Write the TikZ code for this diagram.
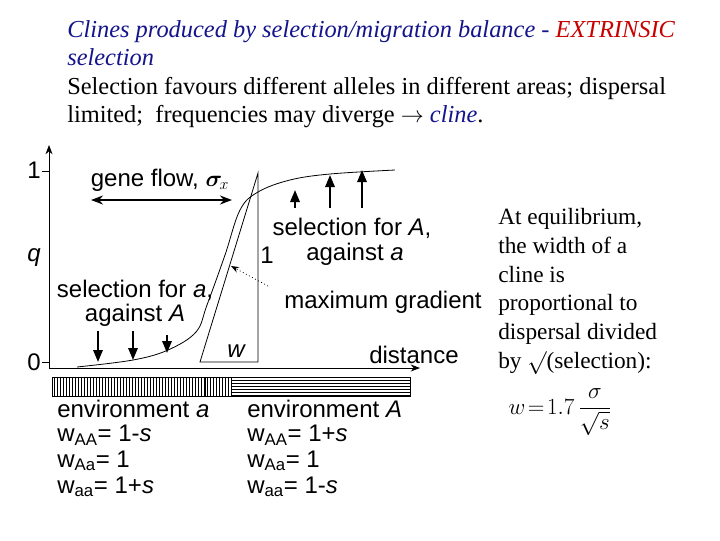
\documentclass[tikz,border=0pt]{standalone}
\usepackage{amsmath}
\usepackage{fontspec}
\setmainfont{Liberation Serif}
\setsansfont{Liberation Sans}
\usetikzlibrary{arrows.meta,patterns}
\begin{document}
\begin{tikzpicture}[x=0.75pt,y=-0.75pt,
  lab/.style={font=\sffamily\fontsize{18}{20}\selectfont,inner sep=0pt},
  side/.style={font=\fontsize{17.5}{21.6}\selectfont,inner sep=0pt,anchor=north west,align=left},
  sel/.style={-{Triangle[length=9pt,width=7pt]},line width=1.6pt},
  tick/.style={line width=0.6pt}]
\useasboundingbox (0,0) rectangle (720,540);
\fill[white] (0,0) rectangle (720,540);
% title
\node[side,font=\fontsize{18.3}{21.4}\selectfont] (title) at (67,20) {\color[RGB]{20,20,140}\itshape Clines produced by selection/migration balance - \color[RGB]{200,0,0}EXTRINSIC\\ \color[RGB]{20,20,140}\itshape selection\\ \upshape\color{black}Selection favours different alleles in different areas; dispersal\\ \color{black}limited;\ \ frequencies may diverge \(\rightarrow\) \color[RGB]{20,20,140}\itshape cline\color{black}\upshape.};
% axes
\coordinate (o) at (49,368);
\coordinate (ytop) at (49,145);
\coordinate (xend) at (420,368);
\draw[line width=0.6pt,-{Stealth[length=7pt]}] (o) -- (ytop);
\draw[line width=0.6pt,-{Stealth[length=7pt]}] (o) -- (xend);
\draw[tick] (42,171) -- (49,171);
\draw[tick] (42,362) -- (49,362);
\node[lab] (one) at (34,170) {1};
\node[lab] (q) at (34,258) {\itshape q};
\node[lab] (zero) at (34,362) {0};
% curve
\draw[line width=0.6pt] plot[smooth,tension=0.6] coordinates {(77,367) (133,360) (168,350) (196,332) (207,305) (225,255) (240,210) (258,192) (290,180) (330,174) (395,170)};
% triangle
\coordinate (t1) at (200,362); \coordinate (t2) at (258,362); \coordinate (t3) at (258,173);
\draw[line width=0.6pt] (t1) -- (t2) -- (t3) -- cycle;
\node[lab] (w) at (236,351) {\itshape w};
\node[lab] (onew) at (267,255) {1};
% labels
\node[lab] (gf) at (160,180) {gene flow, \(\boldsymbol{\sigma}_{\!x}\)};
\coordinate (gfl) at (91,200); \coordinate (gfr) at (232,200);
\draw[{Stealth[length=9pt]}-{Stealth[length=9pt]},line width=1.3pt] (gfl) -- (gfr);
\node[lab] (sA1) at (352,228) {selection for \itshape A\upshape,};
\node[lab] (sA2) at (355,254) {against \itshape a};
\node[lab] (sa1) at (135,290) {selection for \itshape a\upshape,};
\node[lab] (sa2) at (135,315) {against \itshape A};
\node[lab] (mg) at (383,302) {maximum gradient};
\node[lab] (dist) at (414,355) {distance};
\coordinate (mgs) at (268,286); \coordinate (mge) at (231,266);
\draw[dotted,line width=0.6pt,-{Stealth[length=6pt]}] (mgs) -- (mge);
% selection arrows
\coordinate (u1a) at (295,208); \coordinate (u1b) at (295,190);
\coordinate (u2a) at (330,208); \coordinate (u2b) at (330,175);
\coordinate (u3a) at (362,208); \coordinate (u3b) at (362,170);
\draw[sel] (u1a) -- (u1b); \draw[sel] (u2a) -- (u2b); \draw[sel] (u3a) -- (u3b);
\coordinate (d1a) at (98,331); \coordinate (d1b) at (98,362);
\coordinate (d2a) at (133,331); \coordinate (d2b) at (133,360);
\coordinate (d3a) at (167,335); \coordinate (d3b) at (167,353);
\draw[sel] (d1a) -- (d1b); \draw[sel] (d2a) -- (d2b); \draw[sel] (d3a) -- (d3b);
% environment bars
\foreach \x in {54,57,...,229} \draw[line width=0.4pt] (\x,377) -- (\x,396);
\foreach \y in {380,383,...,395} \draw[line width=0.4pt] (231,\y) -- (410,\y);
\draw[line width=0.6pt] (52,377) rectangle (410,396);
\draw[line width=1.2pt] (205,377) -- (205,396);
\draw[line width=0.6pt] (231,377) -- (231,396);
% environment text
\node[lab,anchor=west] (ea) at (57,409) {environment \itshape a};
\node[lab,anchor=west] (ea1) at (57,435) {w\textsubscript{AA}= 1-\itshape s};
\node[lab,anchor=west] (ea2) at (57,461) {w\textsubscript{Aa}= 1};
\node[lab,anchor=west] (ea3) at (57,487) {w\textsubscript{aa}= 1+\itshape s};
\node[lab,anchor=west] (eA) at (247,409) {environment \itshape A};
\node[lab,anchor=west] (eA1) at (247,435) {w\textsubscript{AA}= 1+\itshape s};
\node[lab,anchor=west] (eA2) at (247,461) {w\textsubscript{Aa}= 1};
\node[lab,anchor=west] (eA3) at (247,487) {w\textsubscript{aa}= 1-\itshape s};
% side text
\node[side] (side) at (498,208) {At equilibrium,\\the width of a\\cline is\\proportional to\\dispersal divided\\by \(\surd\)(selection):};
\node[inner sep=0pt,font=\fontsize{17}{19}\selectfont] (f) at (560,412) {\(w\!=\!1.7\,\dfrac{\sigma}{\sqrt{s}}\)};
\end{tikzpicture}
\end{document}
